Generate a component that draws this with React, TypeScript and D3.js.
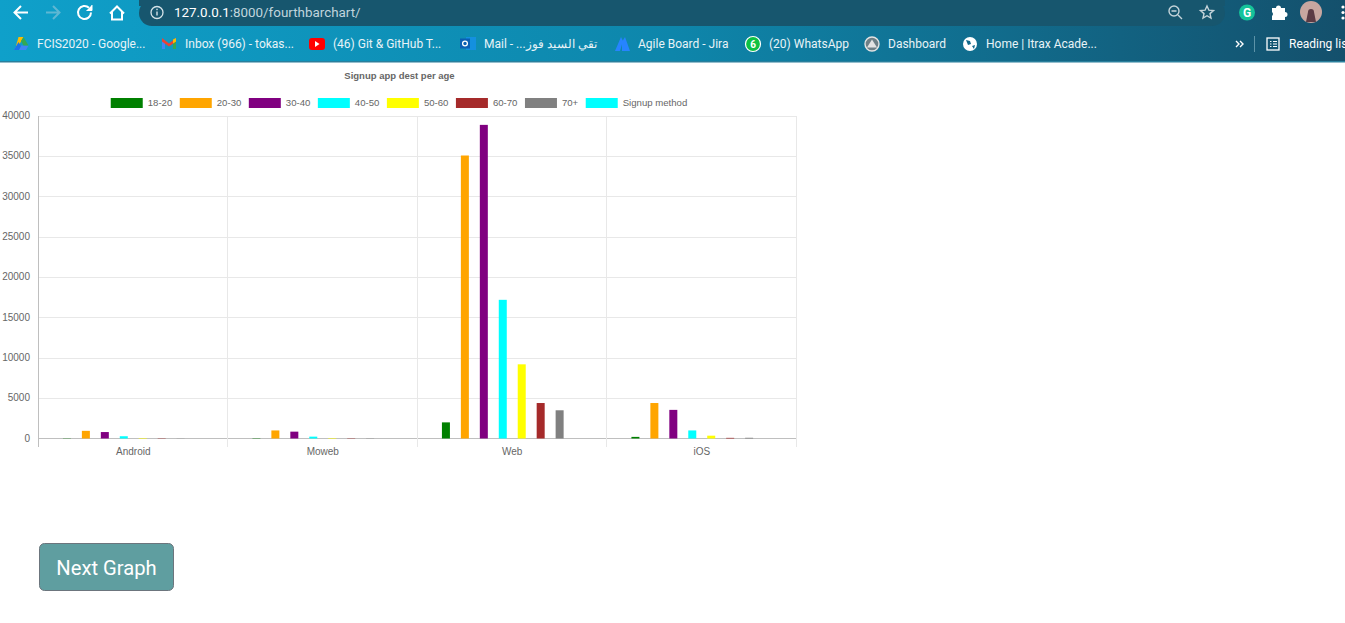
import React from "react";
import * as d3 from "d3";

const categories = ["Android", "Moweb", "Web", "iOS"];
const seriesNames = ["18-20", "20-30", "30-40", "40-50", "50-60", "60-70", "70+", "Signup method"];
const seriesColors = ["green", "orange", "purple", "cyan", "yellow", "brown", "gray", "cyan"];
const values1820 = [30, 40, 2000, 200];
const values2030 = [950, 1000, 35100, 4400];
const values3040 = [800, 850, 38900, 3550];
const values4050 = [280, 230, 17200, 1000];
const values5060 = [60, 60, 9200, 350];
const values6070 = [40, 40, 4400, 80];
const values70 = [20, 30, 3500, 90];
const valuesSignup = [0, 0, 0, 0];
const seriesValues = [values1820, values2030, values3040, values4050, values5060, values6070, values70, valuesSignup];
const yTicks = [0, 5000, 10000, 15000, 20000, 25000, 30000, 35000, 40000];
const chartTitle = "Signup app dest per age";
const bookmarks = ["FCIS2020 - Google...", "Inbox (966) - tokas...", "(46) Git & GitHub T...", "Mail - \u202Bتقي السيد فوز...\u202C", "Agile Board - Jira", "(20) WhatsApp", "Dashboard", "Home | Itrax Acade..."];
const bookmarkX = [37, 185, 333, 484, 638, 769, 888, 986];

const W = 1345, H = 623;
const plot = { left: 38.5, right: 796.5, top: 116, bottom: 438.5 };
const chartFont = "'Liberation Sans', Arial, sans-serif";
const uiFont = "Roboto, 'Noto Sans', sans-serif";

function textWidth(s: string, font: string) {
  const c = document.createElement("canvas").getContext("2d")!;
  c.font = font;
  return c.measureText(s).width;
}

export default function App() {
  const x = d3.scaleBand<string>().domain(categories).range([plot.left, plot.right]);
  const inner = d3.scaleBand<string>().domain(seriesNames)
    .range([0, x.bandwidth()]).paddingOuter(1).paddingInner(0);
  const y = d3.scaleLinear().domain([0, 40000]).range([plot.bottom, plot.top]);
  const barW = 8;

  const legendSize = 9.6;
  const widths = seriesNames.map((n) => textWidth(n, `${legendSize}px ${chartFont}`));
  const gap = 44.5;
  const total = d3.sum(widths) + seriesNames.length * gap - 7.5;
  let cursor = 399 - total / 2;
  const legend = seriesNames.map((n, i) => {
    const item = { name: n, color: seriesColors[i], x: cursor };
    cursor += widths[i] + gap;
    return item;
  });

  const grid = "#e8e8e8";
  const axis = "#bfbfbf";

  return (
    <svg width={W} height={H} viewBox={`0 0 ${W} ${H}`}
      style={{ position: "absolute", left: 0, top: 0, display: "block", background: "#fff" }}>
      <defs>
        <linearGradient id="chrome" x1="0" x2="1" y1="0" y2="0">
          <stop offset="0" stopColor="#0fa0ca" />
          <stop offset="0.5" stopColor="#0e86ab" />
          <stop offset="1" stopColor="#14506c" />
        </linearGradient>
      </defs>

      {/* browser chrome */}
      <rect x={0} y={0} width={W} height={62} fill="url(#chrome)" />
      <rect x={0} y={61} width={W} height={1.5} fill="#2a7f9c" />
      <rect x={139} y={0} width={1086} height={26} rx={13} fill="#17566e" />
      <rect x={139} y={-14} width={1086} height={20} fill="#17566e" />
      <g fill="none" stroke="#fff" strokeWidth={2}>
        <path d="M28 12.5H15M21 6l-6.5 6.5L21 19" />
        <path d="M46 12.5H59M53 6l6.5 6.5L53 19" stroke="#5fb7d3" />
        <path d="M91 12.5a6.5 6.5 0 1 1-2-4.7" />
        <path d="M92 5v5.5h-5.5" fill="#fff" strokeWidth={1} />
        <path d="M110 13.5l7-7 7 7M112 12v7.5h10V12" />
      </g>
      <circle cx={157} cy={12.5} r={6} fill="none" stroke="#d5e3e8" strokeWidth={1.3} />
      <rect x={156.3} y={11.5} width={1.4} height={4} fill="#d5e3e8" />
      <rect x={156.3} y={8.7} width={1.4} height={1.5} fill="#d5e3e8" />
      <text x={174} y={17} fontFamily={uiFont} fontSize={13.4} fill="#fff">127.0.0.1<tspan fill="#c0d5dd">:8000/fourthbarchart/</tspan></text>
      <g fill="none" stroke="#c5d4da" strokeWidth={1.4}>
        <circle cx={1174} cy={11} r={5} /><path d="M1178 15l4 4M1171.5 11h5" />
        <path d="M1207 6l1.9 4.2 4.6.4-3.5 3 1 4.5-4-2.4-4 2.4 1-4.5-3.5-3 4.6-.4z" />
      </g>
      <circle cx={1247} cy={12.5} r={8} fill="#15c39a" />
      <text x={1247} y={17} textAnchor="middle" fontFamily={uiFont} fontSize={12} fontWeight={700} fill="#fff">G</text>
      <path d="M1272 8h4a2.5 2.5 0 0 1 5 0h4v4a2.5 2.5 0 0 1 0 5v3h-13v-4a2.5 2.5 0 0 0 0-4z" fill="#fff" />
      <circle cx={1311} cy={12} r={11} fill="#c7a6a0" />
      <path d="M1306 22l2-10a3 3 0 0 1 6 0l2 10z" fill="#5b3b45" />
      <g fill="#fff"><circle cx={1343} cy={7} r={1.6} /><circle cx={1343} cy={12.5} r={1.6} /><circle cx={1343} cy={18} r={1.6} /></g>

      {/* bookmark icons */}
      <path d="M18.5 37h5l-2.5 4.5-2.5 4.5-2.5 0z" fill="#fbbc04" />
      <path d="M14 50l2.5-4.5h12L26 50z" fill="#4285f4" />
      <path d="M23.5 37l5 8.5h-5l-2.5-4.5z" fill="#34a853" />
      <path d="M14 50l4.5-8 2.5 4-2 4z" fill="#1a73e8" />
      <rect x={162} y={40} width={3} height={9} fill="#4285f4" />
      <rect x={173} y={40} width={3} height={9} fill="#34a853" />
      <path d="M162 38l7 5.5 7-5.5v3.5l-7 5-7-5z" fill="#ea4335" />
      <path d="M173 39.5l3-1.5v3.5l-3 2z" fill="#fbbc04" />
      <rect x={309} y={38} width={16} height={12} rx={3} fill="#f00" />
      <path d="M315 41l4.5 3-4.5 3z" fill="#fff" />
      <rect x={466} y={37} width={10} height={13} fill="#1490df" />
      <rect x={460} y={38.5} width={10} height={10} fill="#0a5fb4" />
      <circle cx={465} cy={43.5} r={2.4} fill="none" stroke="#fff" strokeWidth={1.3} />
      <path d="M615 51l6-14 2 4-3 10zM622 42l3-5 5 14h-8z" fill="#2684ff" />
      <circle cx={753} cy={44} r={7.5} fill="#0dc143" stroke="#fff" strokeWidth={1.2} />
      <text x={753} y={48} textAnchor="middle" fontFamily={uiFont} fontSize={10} fontWeight={700} fill="#fff">6</text>
      <circle cx={872} cy={44} r={7} fill="#6d7f86" stroke="#e3e3e3" strokeWidth={1.4} />
      <path d="M867 47.5l5-8 5 8z" fill="#e3e3e3" />
      <circle cx={970} cy={44} r={7} fill="#fff" />
      <path d="M966 40l4 1 1 3-3 1zM972 46l3-1-1 4z" fill="#11688a" />
      <path d="M1236 41l3 3-3 3M1240 41l3 3-3 3" fill="none" stroke="#fff" strokeWidth={1.4} />
      <rect x={1254} y={36} width={1} height={16} fill="#5d93a8" />
      <rect x={1267} y={38} width={12} height={12} fill="none" stroke="#fff" strokeWidth={1.3} />
      <path d="M1270 41.5h1.5M1273 41.5h4M1270 44h1.5M1273 44h4M1270 46.5h1.5M1273 46.5h4" stroke="#fff" strokeWidth={1} />
      <g fontFamily={uiFont} fontSize={12} fill="#e8f3f7">
        {bookmarks.map((b, i) => <text key={b} x={bookmarkX[i]} y={48}>{b}</text>)}
        <text x={1289} y={48} fill="#fff">Reading list</text>
      </g>

      {/* title */}
      <text x={399.5} y={79} textAnchor="middle" fontFamily={chartFont} fontSize={9.5} fontWeight={700} fill="#666">{chartTitle}</text>

      {/* legend */}
      {legend.map((l) => (
        <g key={l.name}>
          <rect x={l.x} y={98} width={32} height={10} fill={l.color} />
          <text x={l.x + 37} y={106} fontFamily={chartFont} fontSize={legendSize} fill="#666">{l.name}</text>
        </g>
      ))}

      {/* grid */}
      {yTicks.map((t) => {
        const py = Math.round(y(t) - 0.2) + 0.5;
        return (
          <g key={t}>
            <line x1={plot.left} x2={plot.right} y1={py} y2={py} stroke={t === 0 ? axis : grid} />
            <text x={30} y={y(t) + 3} textAnchor="end" fontFamily={chartFont} fontSize={10} fill="#666">{t}</text>
          </g>
        );
      })}
      {[...categories.map((c) => x(c)!), plot.right].map((v, i) => {
        const px = Math.floor(v - 0.5) + 0.5;
        return <line key={i} x1={px} x2={px} y1={plot.top} y2={447} stroke={i === 0 ? axis : grid} />;
      })}

      {/* bars */}
      {seriesNames.map((s, si) => (
        <g key={si} fill={seriesColors[si]}>
          {categories.map((c, ci) => {
            const cx = x(c)! + inner(s)! + inner.bandwidth() / 2;
            const v = seriesValues[si][ci];
            return <rect key={c} x={cx - barW / 2} y={y(v)} width={barW} height={y(0) - y(v)} />;
          })}
        </g>
      ))}

      {/* category labels */}
      {categories.map((c) => (
        <text key={c} x={x(c)! + x.bandwidth() / 2} y={455} textAnchor="middle" fontFamily={chartFont} fontSize={10} fill="#666">{c}</text>
      ))}

      {/* button */}
      <rect x={39.5} y={543.5} width={134} height={47} rx={5} fill="#5f9ea0" stroke="#6c757d" />
      <text x={106.5} y={575} textAnchor="middle" fontFamily={uiFont} fontSize={20.2} fill="#fff">Next Graph</text>
    </svg>
  );
}
